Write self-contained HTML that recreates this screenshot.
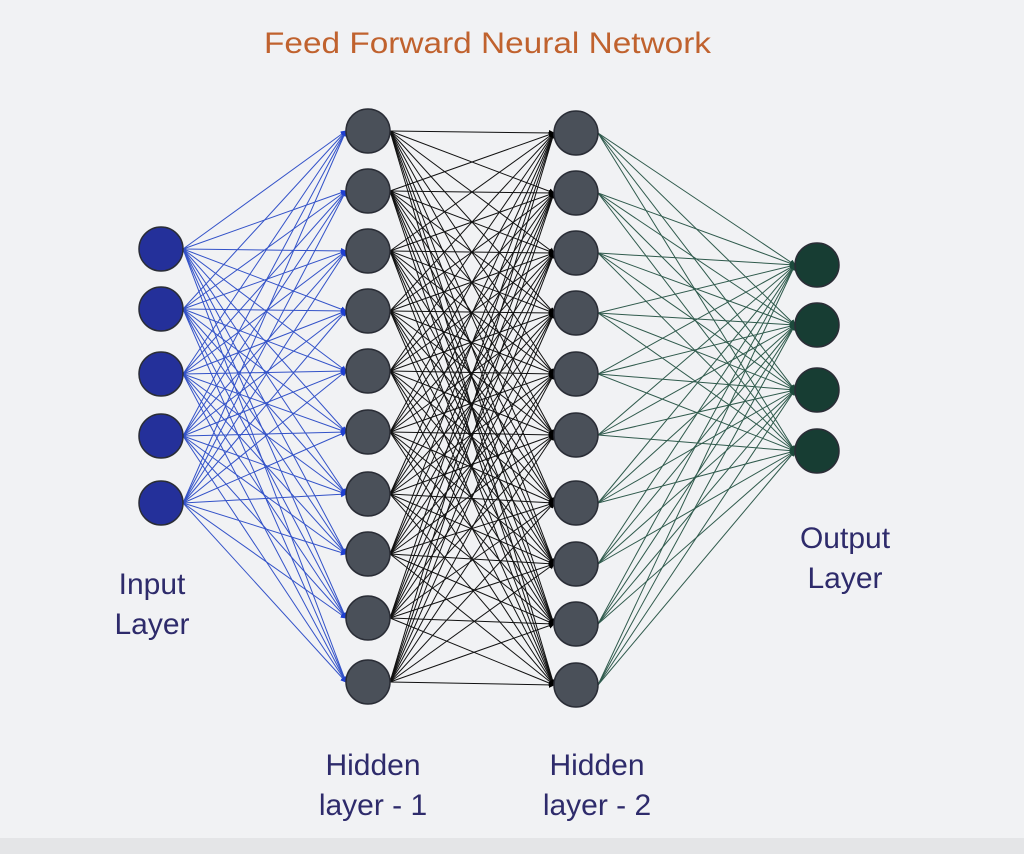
<!DOCTYPE html>
<html><head><meta charset="utf-8"><style>
html,body{margin:0;padding:0;background:#f1f2f4;}
svg{display:block;}
text{font-family:"Liberation Sans",sans-serif;}
</style></head><body>
<svg id="s" width="1024" height="854" viewBox="0 0 1024 854" xmlns="http://www.w3.org/2000/svg">
<defs>
<marker id="mb" markerWidth="6" markerHeight="6" refX="5" refY="3" orient="auto" markerUnits="userSpaceOnUse"><path d="M0,0 L6,3 L0,6 z" fill="#1f3fd0"/></marker>
<marker id="mk" markerWidth="6" markerHeight="6" refX="5" refY="3" orient="auto" markerUnits="userSpaceOnUse"><path d="M0,0 L6,3 L0,6 z" fill="#000"/></marker>
<marker id="mg" markerWidth="6" markerHeight="6" refX="5" refY="3" orient="auto" markerUnits="userSpaceOnUse"><path d="M0,0 L6,3 L0,6 z" fill="#1d4a3c"/></marker>
</defs>
<rect x="0" y="838" width="1024" height="16" fill="#e4e5e7"/>
<g id="lines"></g>
<g id="nodes"></g>
<text x="264" y="53" font-size="30" fill="#c0622e" textLength="447" lengthAdjust="spacingAndGlyphs">Feed Forward Neural Network</text>
<g font-size="30" fill="#2e2b6b" text-anchor="middle">
<text x="152" y="594">Input</text>
<text x="152" y="634">Layer</text>
<text x="373" y="775">Hidden</text>
<text x="373" y="815">layer - 1</text>
<text x="597" y="775">Hidden</text>
<text x="597" y="815">layer - 2</text>
<text x="845" y="548">Output</text>
<text x="845" y="588">Layer</text>
</g>
</svg>
<script>
var NS="http://www.w3.org/2000/svg";
var L0={x:161,ys:[249,309,374,436,503],c:"#24309a"};
var L1={x:368,ys:[131,191,251,311,371,432,494,554,618,682],c:"#4a5059"};
var L2={x:576,ys:[133,193,253,313,374,435,503,564,624,685],c:"#4a5059"};
var L3={x:817,ys:[265,325,390,451],c:"#173d33"};
var r=22;
var lg=document.getElementById("lines"),ng=document.getElementById("nodes");
function conn(A,B,col,m,w){
 A.ys.forEach(function(ya){B.ys.forEach(function(yb){
  var l=document.createElementNS(NS,"line");
  l.setAttribute("x1",A.x+r);l.setAttribute("y1",ya);
  l.setAttribute("x2",B.x-r);l.setAttribute("y2",yb);
  l.setAttribute("stroke",col);l.setAttribute("stroke-width",w);
  l.setAttribute("marker-end","url(#"+m+")");
  lg.appendChild(l);});});
}
conn(L0,L1,"#3352c8","mb",1);
conn(L1,L2,"#111","mk",1);
conn(L2,L3,"#2f5a4c","mg",1);
[L0,L1,L2,L3].forEach(function(L){L.ys.forEach(function(y){
 var c=document.createElementNS(NS,"circle");
 c.setAttribute("cx",L.x);c.setAttribute("cy",y);c.setAttribute("r",r);
 c.setAttribute("fill",L.c);c.setAttribute("stroke","#2a2d36");c.setAttribute("stroke-width","1.5");
 ng.appendChild(c);});});
</script>
</body></html>
